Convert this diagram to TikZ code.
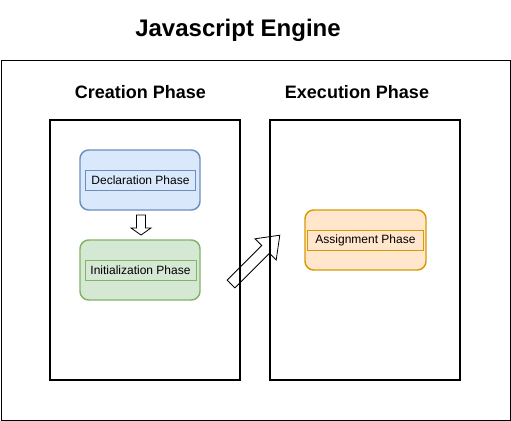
\documentclass[tikz,border=0pt]{standalone}
\usepackage{fontspec}
\setmainfont{Liberation Sans}
\definecolor{bluefill}{HTML}{DAE8FC}
\definecolor{bluestroke}{HTML}{6C8EBF}
\definecolor{greenfill}{HTML}{D5E8D4}
\definecolor{greenstroke}{HTML}{82B366}
\definecolor{orangefill}{HTML}{FFE6CC}
\definecolor{orangestroke}{HTML}{D79B00}
\tikzset{
  px/.style={x=0.75pt,y=-0.75pt},
  phasebox/.style={draw=black,line width=1.5pt},
  card/.style={rounded corners=6.5pt,line width=1.1pt},
  labelbox/.style={line width=0.6pt,font=\fontsize{9}{11}\selectfont,inner sep=0pt},
  heading/.style={font=\fontsize{13.5}{16}\selectfont\bfseries},
  blockarrow/.style={draw=black,fill=white,line width=0.6pt,line join=miter},
}
\begin{document}
\begin{tikzpicture}[px]
\useasboundingbox (0,0) rectangle (511,421);
\node[font=\fontsize{18}{21}\selectfont\bfseries] (title) at (238,30) {Javascript Engine};
\draw[line width=0.75pt] (1,60) rectangle (510,420);
\node[heading] (hcreate) at (140.5,92) {Creation Phase};
\node[heading] (hexec) at (357,92) {Execution Phase};
% diagonal block arrow (behind the phase boxes)
\draw[blockarrow] (227.1,280.1) -- (261.7,245.5) -- (255.0,238.8) -- (279.8,235.2) -- (276.2,260.0) -- (269.5,253.3) -- (234.9,287.9) -- cycle;
\draw[phasebox] (50,120) rectangle (240,380);
\draw[phasebox] (270,120) rectangle (460,380);
% declaration
\draw[card,fill=bluefill,draw=bluestroke] (80,150) rectangle (200,210);
\node[labelbox,draw=bluestroke,fill=bluefill,minimum width=110*0.75pt,minimum height=20*0.75pt] (decl) at (140.5,180) {Declaration Phase};
% initialization
\draw[card,fill=greenfill,draw=greenstroke] (80,240) rectangle (200,300);
\node[labelbox,draw=greenstroke,fill=greenfill,minimum width=111*0.75pt,minimum height=20*0.75pt] (init) at (140.5,270) {Initialization Phase};
% assignment
\draw[card,fill=orangefill,draw=orangestroke] (305,210) rectangle (426,270);
\node[labelbox,draw=orangestroke,fill=orangefill,minimum width=116*0.75pt,minimum height=20*0.75pt] (assign) at (365.5,240) {Assignment Phase};
% down block arrow
\draw[blockarrow] (136.5,215) -- (136.5,228) -- (131,228) -- (141,235) -- (151,228) -- (145.5,228) -- (145.5,215) -- cycle;
\end{tikzpicture}
\end{document}
